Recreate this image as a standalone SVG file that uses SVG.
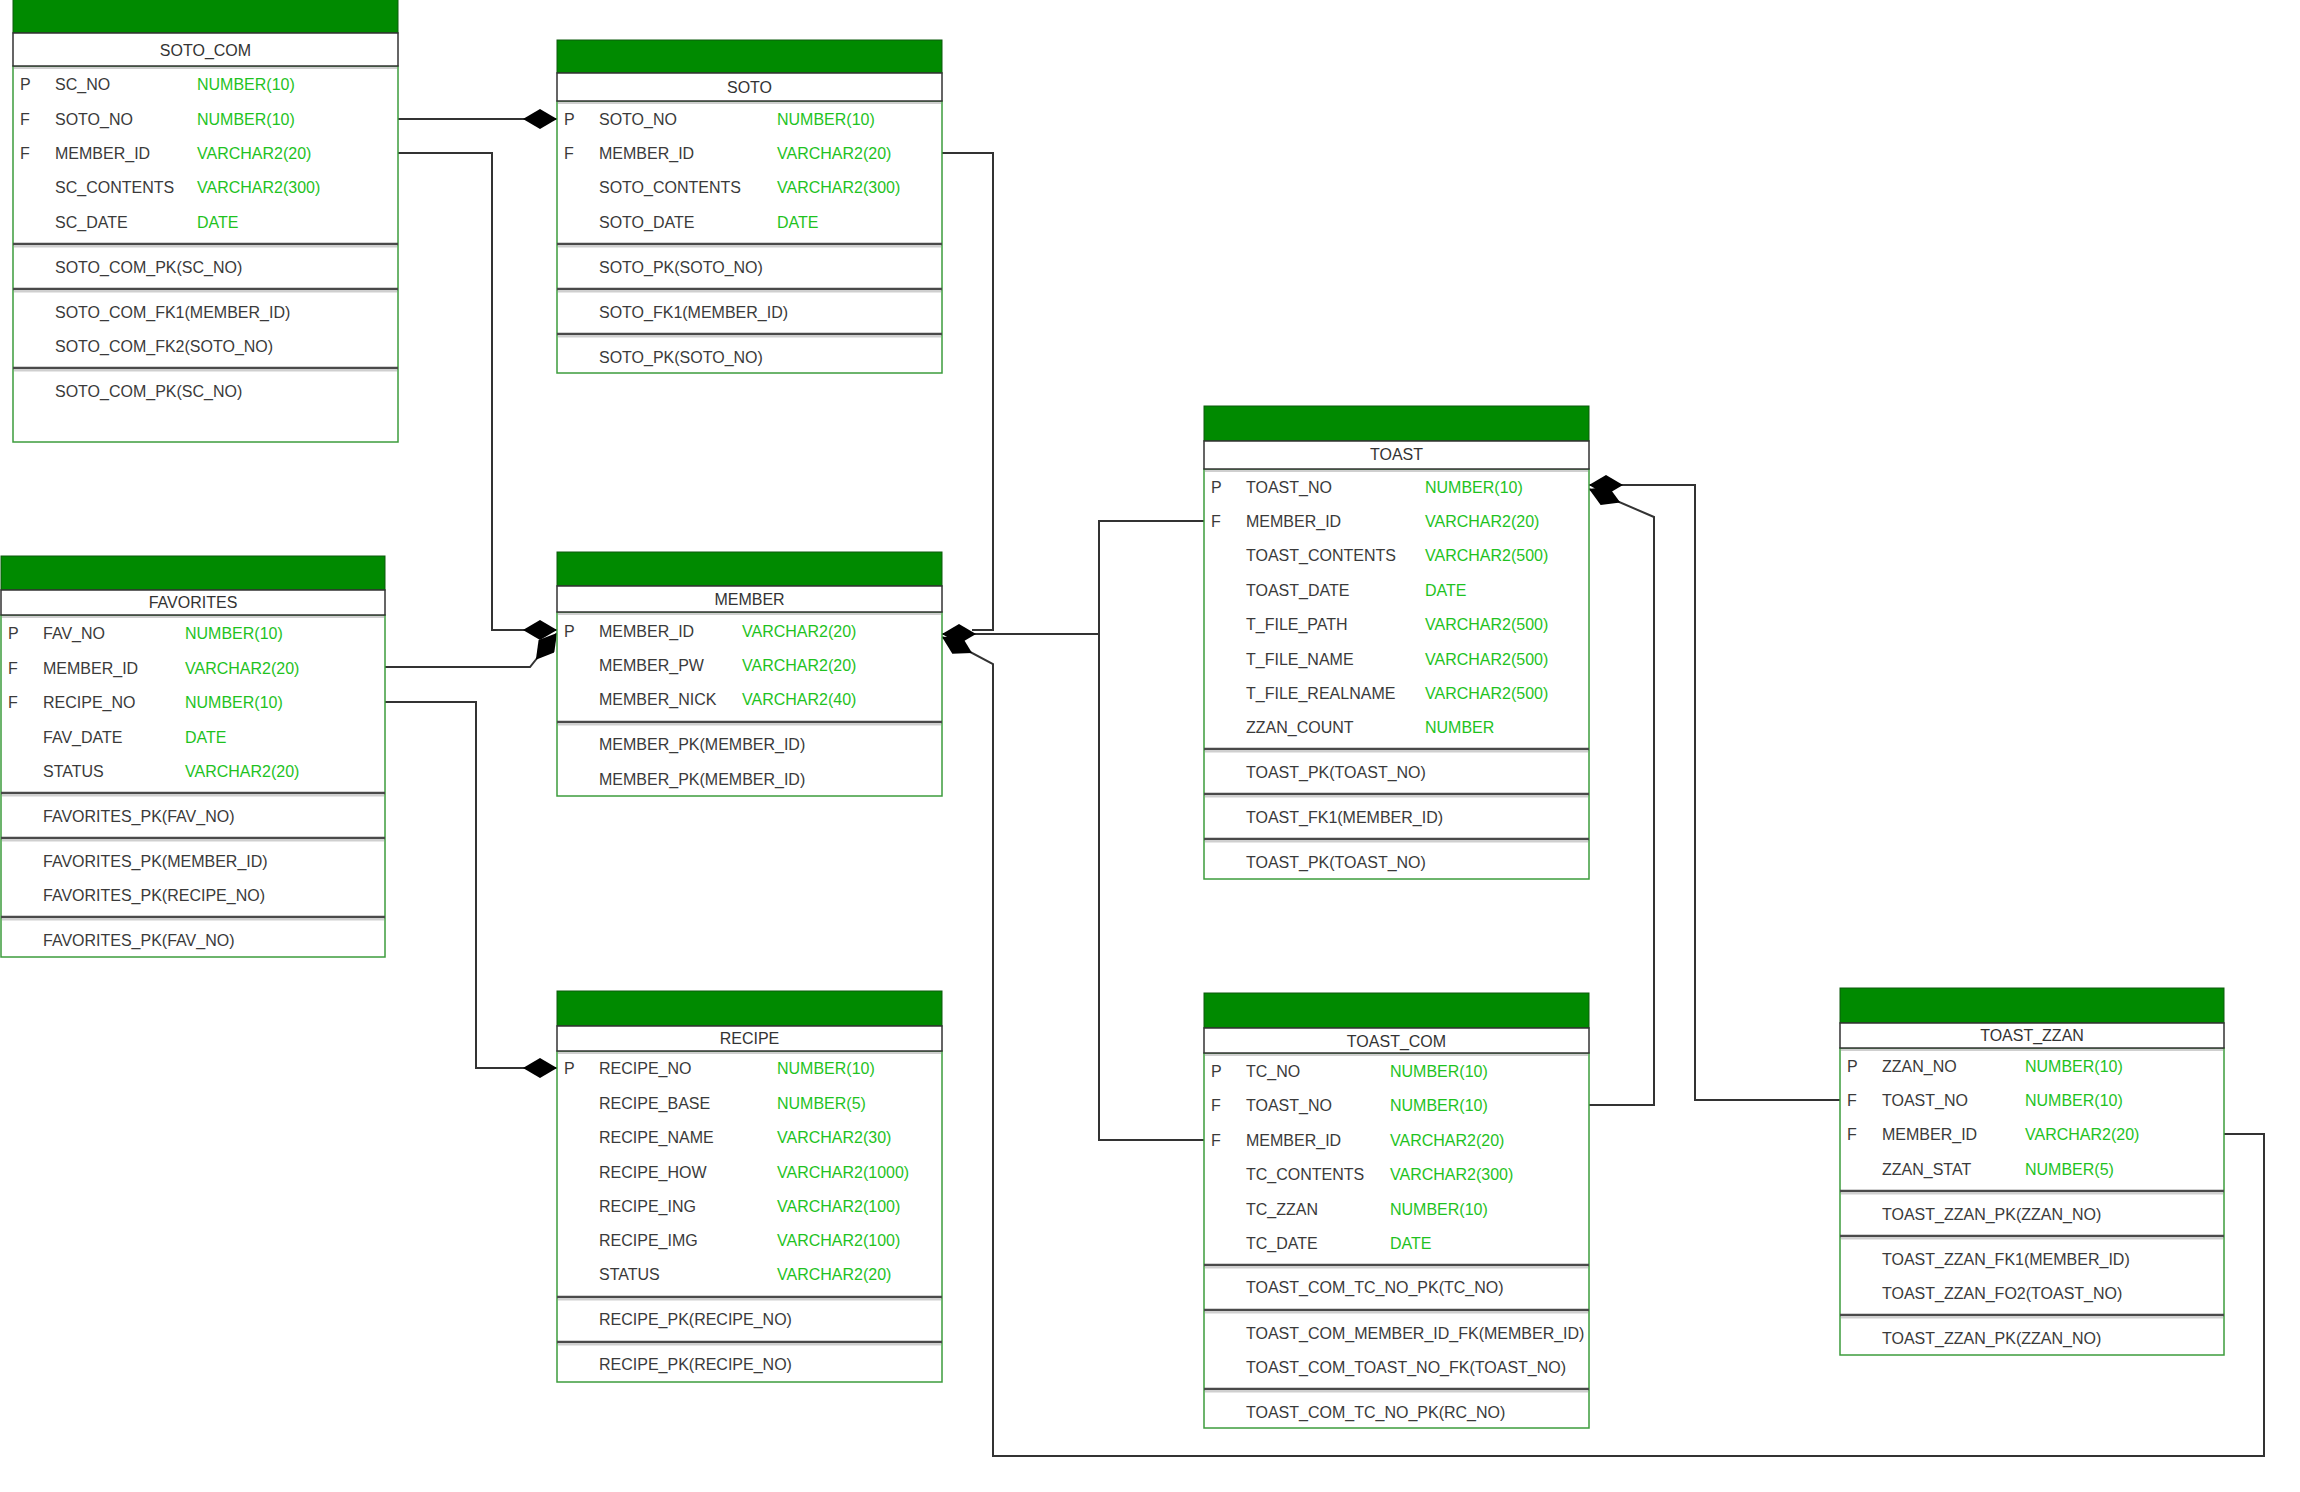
<svg xmlns="http://www.w3.org/2000/svg" width="2300" height="1492" viewBox="0 0 2300 1492">
<style>
text{font-family:"Liberation Sans",Arial,sans-serif;font-size:16px;fill:#3a3a3a}
.hdr{fill:#008a00;stroke:#0d5a0d;stroke-width:1}
.ttl{fill:#fff;stroke:#333;stroke-width:1.5}
.body{fill:#fff;stroke:#3c9c3c;stroke-width:1.5}
.sep{stroke:#4a4a4a;stroke-width:2.5}
.shd{stroke:#cfcfcf;stroke-width:2}
.c{text-anchor:middle;fill:#333}
.g{fill:#1fc21f}
.conn{fill:none;stroke:#333;stroke-width:2}
.dm{marker-end:url(#dia)}
</style>
<defs>
<marker id="dia" viewBox="0 0 34 20" refX="34" refY="10" markerWidth="34" markerHeight="20" markerUnits="userSpaceOnUse" orient="auto">
<path d="M0,10 L17,0 L34,10 L17,20 Z" fill="#000"/>
</marker>
</defs>
<rect width="2300" height="1492" fill="#fff"/>

<g id="connectors">
<path class="conn dm" d="M398,119 H557"/>
<path class="conn dm" d="M398,153 H492 V630 H557"/>
<path class="conn dm" d="M385,667 H530 L557,633"/>
<path class="conn" d="M942,153 H993 V630 H972"/>
<path class="conn dm" d="M1204,521 H1099 V634 H942"/>
<path class="conn" d="M1204,1140 H1099 V634"/>
<path class="conn dm" d="M2224,1134 H2264 V1456 H993 V664 L942,637"/>
<path class="conn dm" d="M385,702 H476 V1068 H557"/>
<path class="conn dm" d="M1589,1105 H1654 V517 L1589,489"/>
<path class="conn dm" d="M1840,1100 H1695 V485 H1589"/>
</g>

<g id="SOTO_COM" transform="translate(13,0)">
<rect class="hdr" x="0" y="-2" width="385" height="35"/>
<rect class="body" x="0" y="66" width="385" height="376"/>
<rect class="ttl" x="0" y="33" width="385" height="33"/>
<line class="shd" x1="1" y1="68" x2="384" y2="68"/>
<text class="c" x="192.5" y="56">SOTO_COM</text>
<text x="7" y="90">P</text><text x="42" y="90">SC_NO</text><text class="g" x="184" y="90">NUMBER(10)</text>
<text x="7" y="125">F</text><text x="42" y="125">SOTO_NO</text><text class="g" x="184" y="125">NUMBER(10)</text>
<text x="7" y="159">F</text><text x="42" y="159">MEMBER_ID</text><text class="g" x="184" y="159">VARCHAR2(20)</text>
<text x="42" y="193">SC_CONTENTS</text><text class="g" x="184" y="193">VARCHAR2(300)</text>
<text x="42" y="228">SC_DATE</text><text class="g" x="184" y="228">DATE</text>
<line class="sep" x1="0" y1="244" x2="385" y2="244"/><line class="shd" x1="1" y1="246.5" x2="384" y2="246.5"/>
<text x="42" y="273">SOTO_COM_PK(SC_NO)</text>
<line class="sep" x1="0" y1="289" x2="385" y2="289"/><line class="shd" x1="1" y1="291.5" x2="384" y2="291.5"/>
<text x="42" y="318">SOTO_COM_FK1(MEMBER_ID)</text>
<text x="42" y="352">SOTO_COM_FK2(SOTO_NO)</text>
<line class="sep" x1="0" y1="368" x2="385" y2="368"/><line class="shd" x1="1" y1="370.5" x2="384" y2="370.5"/>
<text x="42" y="397">SOTO_COM_PK(SC_NO)</text>
</g>

<g id="SOTO" transform="translate(557,0)">
<rect class="hdr" x="0" y="40" width="385" height="33"/>
<rect class="body" x="0" y="101" width="385" height="272"/>
<rect class="ttl" x="0" y="73" width="385" height="28"/>
<line class="shd" x1="1" y1="103" x2="384" y2="103"/>
<text class="c" x="192.5" y="93">SOTO</text>
<text x="7" y="125">P</text><text x="42" y="125">SOTO_NO</text><text class="g" x="220" y="125">NUMBER(10)</text>
<text x="7" y="159">F</text><text x="42" y="159">MEMBER_ID</text><text class="g" x="220" y="159">VARCHAR2(20)</text>
<text x="42" y="193">SOTO_CONTENTS</text><text class="g" x="220" y="193">VARCHAR2(300)</text>
<text x="42" y="228">SOTO_DATE</text><text class="g" x="220" y="228">DATE</text>
<line class="sep" x1="0" y1="244" x2="385" y2="244"/><line class="shd" x1="1" y1="246.5" x2="384" y2="246.5"/>
<text x="42" y="273">SOTO_PK(SOTO_NO)</text>
<line class="sep" x1="0" y1="289" x2="385" y2="289"/><line class="shd" x1="1" y1="291.5" x2="384" y2="291.5"/>
<text x="42" y="318">SOTO_FK1(MEMBER_ID)</text>
<line class="sep" x1="0" y1="334" x2="385" y2="334"/><line class="shd" x1="1" y1="336.5" x2="384" y2="336.5"/>
<text x="42" y="363">SOTO_PK(SOTO_NO)</text>
</g>

<g id="FAVORITES" transform="translate(1,0)">
<rect class="hdr" x="0" y="556" width="384" height="34"/>
<rect class="body" x="0" y="615" width="384" height="342"/>
<rect class="ttl" x="0" y="590" width="384" height="25"/>
<line class="shd" x1="1" y1="617" x2="383" y2="617"/>
<text class="c" x="192" y="608">FAVORITES</text>
<text x="7" y="639">P</text><text x="42" y="639">FAV_NO</text><text class="g" x="184" y="639">NUMBER(10)</text>
<text x="7" y="674">F</text><text x="42" y="674">MEMBER_ID</text><text class="g" x="184" y="674">VARCHAR2(20)</text>
<text x="7" y="708">F</text><text x="42" y="708">RECIPE_NO</text><text class="g" x="184" y="708">NUMBER(10)</text>
<text x="42" y="743">FAV_DATE</text><text class="g" x="184" y="743">DATE</text>
<text x="42" y="777">STATUS</text><text class="g" x="184" y="777">VARCHAR2(20)</text>
<line class="sep" x1="0" y1="793" x2="384" y2="793"/><line class="shd" x1="1" y1="795.5" x2="383" y2="795.5"/>
<text x="42" y="822">FAVORITES_PK(FAV_NO)</text>
<line class="sep" x1="0" y1="838" x2="384" y2="838"/><line class="shd" x1="1" y1="840.5" x2="383" y2="840.5"/>
<text x="42" y="867">FAVORITES_PK(MEMBER_ID)</text>
<text x="42" y="901">FAVORITES_PK(RECIPE_NO)</text>
<line class="sep" x1="0" y1="917" x2="384" y2="917"/><line class="shd" x1="1" y1="919.5" x2="383" y2="919.5"/>
<text x="42" y="946">FAVORITES_PK(FAV_NO)</text>
</g>

<g id="MEMBER" transform="translate(557,0)">
<rect class="hdr" x="0" y="552" width="385" height="34"/>
<rect class="body" x="0" y="612" width="385" height="184"/>
<rect class="ttl" x="0" y="586" width="385" height="26"/>
<line class="shd" x1="1" y1="614" x2="384" y2="614"/>
<text class="c" x="192.5" y="605">MEMBER</text>
<text x="7" y="637">P</text><text x="42" y="637">MEMBER_ID</text><text class="g" x="185" y="637">VARCHAR2(20)</text>
<text x="42" y="671">MEMBER_PW</text><text class="g" x="185" y="671">VARCHAR2(20)</text>
<text x="42" y="705">MEMBER_NICK</text><text class="g" x="185" y="705">VARCHAR2(40)</text>
<line class="sep" x1="0" y1="722" x2="385" y2="722"/><line class="shd" x1="1" y1="724.5" x2="384" y2="724.5"/>
<text x="42" y="750">MEMBER_PK(MEMBER_ID)</text>
<text x="42" y="785">MEMBER_PK(MEMBER_ID)</text>
</g>

<g id="RECIPE" transform="translate(557,0)">
<rect class="hdr" x="0" y="991" width="385" height="35"/>
<rect class="body" x="0" y="1051" width="385" height="331"/>
<rect class="ttl" x="0" y="1026" width="385" height="25"/>
<line class="shd" x1="1" y1="1053" x2="384" y2="1053"/>
<text class="c" x="192.5" y="1044">RECIPE</text>
<text x="7" y="1074">P</text><text x="42" y="1074">RECIPE_NO</text><text class="g" x="220" y="1074">NUMBER(10)</text>
<text x="42" y="1109">RECIPE_BASE</text><text class="g" x="220" y="1109">NUMBER(5)</text>
<text x="42" y="1143">RECIPE_NAME</text><text class="g" x="220" y="1143">VARCHAR2(30)</text>
<text x="42" y="1178">RECIPE_HOW</text><text class="g" x="220" y="1178">VARCHAR2(1000)</text>
<text x="42" y="1212">RECIPE_ING</text><text class="g" x="220" y="1212">VARCHAR2(100)</text>
<text x="42" y="1246">RECIPE_IMG</text><text class="g" x="220" y="1246">VARCHAR2(100)</text>
<text x="42" y="1280">STATUS</text><text class="g" x="220" y="1280">VARCHAR2(20)</text>
<line class="sep" x1="0" y1="1297" x2="385" y2="1297"/><line class="shd" x1="1" y1="1299.5" x2="384" y2="1299.5"/>
<text x="42" y="1325">RECIPE_PK(RECIPE_NO)</text>
<line class="sep" x1="0" y1="1342" x2="385" y2="1342"/><line class="shd" x1="1" y1="1344.5" x2="384" y2="1344.5"/>
<text x="42" y="1370">RECIPE_PK(RECIPE_NO)</text>
</g>

<g id="TOAST" transform="translate(1204,0)">
<rect class="hdr" x="0" y="406" width="385" height="35"/>
<rect class="body" x="0" y="469" width="385" height="410"/>
<rect class="ttl" x="0" y="441" width="385" height="28"/>
<line class="shd" x1="1" y1="471" x2="384" y2="471"/>
<text class="c" x="192.5" y="460">TOAST</text>
<text x="7" y="493">P</text><text x="42" y="493">TOAST_NO</text><text class="g" x="221" y="493">NUMBER(10)</text>
<text x="7" y="527">F</text><text x="42" y="527">MEMBER_ID</text><text class="g" x="221" y="527">VARCHAR2(20)</text>
<text x="42" y="561">TOAST_CONTENTS</text><text class="g" x="221" y="561">VARCHAR2(500)</text>
<text x="42" y="596">TOAST_DATE</text><text class="g" x="221" y="596">DATE</text>
<text x="42" y="630">T_FILE_PATH</text><text class="g" x="221" y="630">VARCHAR2(500)</text>
<text x="42" y="665">T_FILE_NAME</text><text class="g" x="221" y="665">VARCHAR2(500)</text>
<text x="42" y="699">T_FILE_REALNAME</text><text class="g" x="221" y="699">VARCHAR2(500)</text>
<text x="42" y="733">ZZAN_COUNT</text><text class="g" x="221" y="733">NUMBER</text>
<line class="sep" x1="0" y1="749" x2="385" y2="749"/><line class="shd" x1="1" y1="751.5" x2="384" y2="751.5"/>
<text x="42" y="778">TOAST_PK(TOAST_NO)</text>
<line class="sep" x1="0" y1="794" x2="385" y2="794"/><line class="shd" x1="1" y1="796.5" x2="384" y2="796.5"/>
<text x="42" y="823">TOAST_FK1(MEMBER_ID)</text>
<line class="sep" x1="0" y1="839" x2="385" y2="839"/><line class="shd" x1="1" y1="841.5" x2="384" y2="841.5"/>
<text x="42" y="868">TOAST_PK(TOAST_NO)</text>
</g>

<g id="TOAST_COM" transform="translate(1204,0)">
<rect class="hdr" x="0" y="993" width="385" height="35"/>
<rect class="body" x="0" y="1053" width="385" height="375"/>
<rect class="ttl" x="0" y="1028" width="385" height="25"/>
<line class="shd" x1="1" y1="1055" x2="384" y2="1055"/>
<text class="c" x="192.5" y="1047">TOAST_COM</text>
<text x="7" y="1077">P</text><text x="42" y="1077">TC_NO</text><text class="g" x="186" y="1077">NUMBER(10)</text>
<text x="7" y="1111">F</text><text x="42" y="1111">TOAST_NO</text><text class="g" x="186" y="1111">NUMBER(10)</text>
<text x="7" y="1146">F</text><text x="42" y="1146">MEMBER_ID</text><text class="g" x="186" y="1146">VARCHAR2(20)</text>
<text x="42" y="1180">TC_CONTENTS</text><text class="g" x="186" y="1180">VARCHAR2(300)</text>
<text x="42" y="1215">TC_ZZAN</text><text class="g" x="186" y="1215">NUMBER(10)</text>
<text x="42" y="1249">TC_DATE</text><text class="g" x="186" y="1249">DATE</text>
<line class="sep" x1="0" y1="1265" x2="385" y2="1265"/><line class="shd" x1="1" y1="1267.5" x2="384" y2="1267.5"/>
<text x="42" y="1293">TOAST_COM_TC_NO_PK(TC_NO)</text>
<line class="sep" x1="0" y1="1310" x2="385" y2="1310"/><line class="shd" x1="1" y1="1312.5" x2="384" y2="1312.5"/>
<text x="42" y="1339">TOAST_COM_MEMBER_ID_FK(MEMBER_ID)</text>
<text x="42" y="1373">TOAST_COM_TOAST_NO_FK(TOAST_NO)</text>
<line class="sep" x1="0" y1="1389" x2="385" y2="1389"/><line class="shd" x1="1" y1="1391.5" x2="384" y2="1391.5"/>
<text x="42" y="1418">TOAST_COM_TC_NO_PK(RC_NO)</text>
</g>

<g id="TOAST_ZZAN" transform="translate(1840,0)">
<rect class="hdr" x="0" y="988" width="384" height="35"/>
<rect class="body" x="0" y="1048" width="384" height="307"/>
<rect class="ttl" x="0" y="1023" width="384" height="25"/>
<line class="shd" x1="1" y1="1050" x2="383" y2="1050"/>
<text class="c" x="192" y="1041">TOAST_ZZAN</text>
<text x="7" y="1072">P</text><text x="42" y="1072">ZZAN_NO</text><text class="g" x="185" y="1072">NUMBER(10)</text>
<text x="7" y="1106">F</text><text x="42" y="1106">TOAST_NO</text><text class="g" x="185" y="1106">NUMBER(10)</text>
<text x="7" y="1140">F</text><text x="42" y="1140">MEMBER_ID</text><text class="g" x="185" y="1140">VARCHAR2(20)</text>
<text x="42" y="1175">ZZAN_STAT</text><text class="g" x="185" y="1175">NUMBER(5)</text>
<line class="sep" x1="0" y1="1191" x2="384" y2="1191"/><line class="shd" x1="1" y1="1193.5" x2="383" y2="1193.5"/>
<text x="42" y="1220">TOAST_ZZAN_PK(ZZAN_NO)</text>
<line class="sep" x1="0" y1="1236" x2="384" y2="1236"/><line class="shd" x1="1" y1="1238.5" x2="383" y2="1238.5"/>
<text x="42" y="1265">TOAST_ZZAN_FK1(MEMBER_ID)</text>
<text x="42" y="1299">TOAST_ZZAN_FO2(TOAST_NO)</text>
<line class="sep" x1="0" y1="1315" x2="384" y2="1315"/><line class="shd" x1="1" y1="1317.5" x2="383" y2="1317.5"/>
<text x="42" y="1344">TOAST_ZZAN_PK(ZZAN_NO)</text>
</g>
</svg>
